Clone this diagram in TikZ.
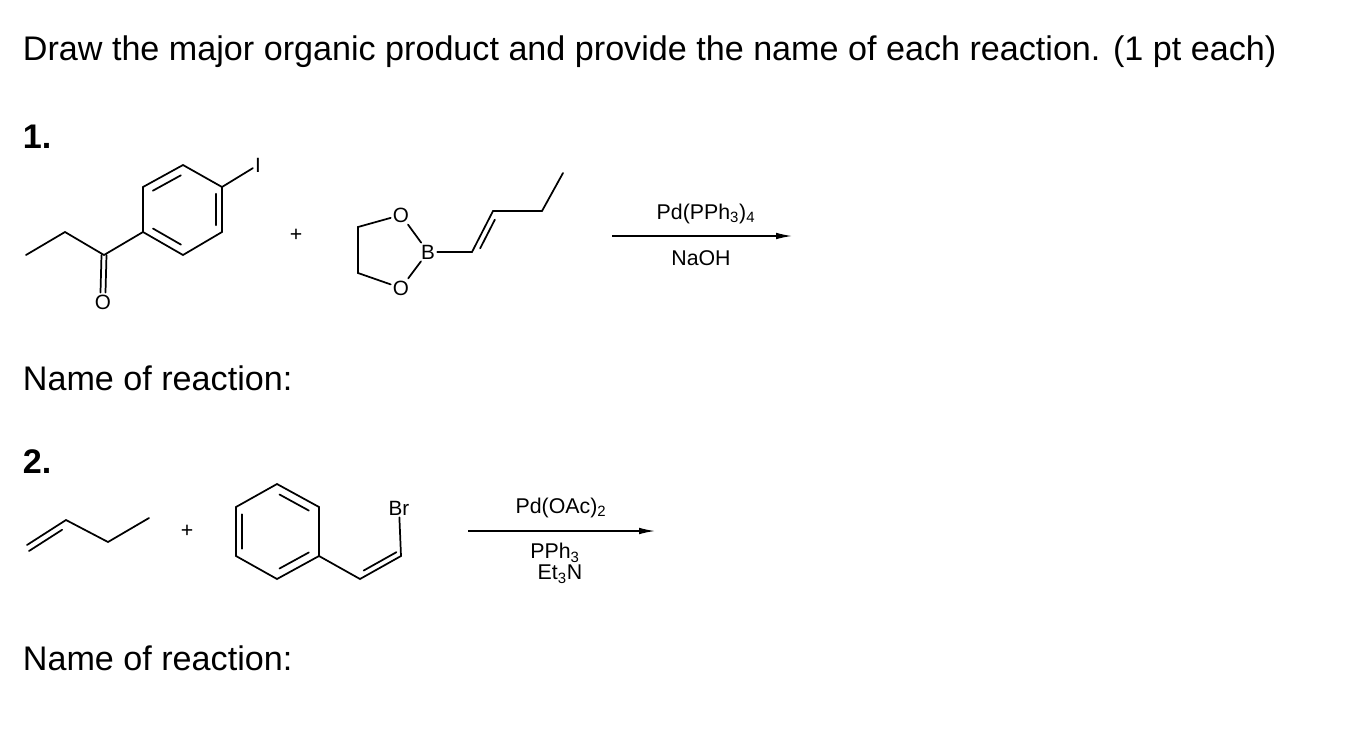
\documentclass[tikz,border=0pt]{standalone}
\usepackage{fontspec}
\setmainfont{Liberation Sans}
\usetikzlibrary{arrows.meta,calc}
\begin{document}
\begin{tikzpicture}[x=0.75pt,y=-0.75pt,line width=1.4pt,
  bond/.style={line width=1.3pt,line cap=round},
  atom/.style={inner sep=1pt,font=\fontsize{15.5}{15.5}\selectfont},
  small/.style={inner sep=0pt,font=\fontsize{16}{16}\selectfont},
  big/.style={anchor=west,inner sep=0pt,font=\fontsize{25.6}{28}\selectfont},
  rxnarrow/.style={line width=1pt,-{Latex[length=12pt,width=5pt]}}]
\useasboundingbox (0,0) rectangle (1358,754);
\node[big] (title) at (22,52) {Draw the major organic product and provide the name of each reaction. (1 pt each)};
\node[big,font=\fontsize{25.6}{28}\selectfont\bfseries] (n1) at (22,137) {1.};
\node[big] (name1) at (22,378) {Name of reaction:};
\node[big,font=\fontsize{25.6}{28}\selectfont\bfseries] (n2) at (22,462) {2.};
\node[big] (name2) at (22,658) {Name of reaction:};
% molecule 1a
\coordinate (a1) at (183,165); \coordinate (a2) at (222,187); \coordinate (a3) at (222,232);
\coordinate (a4) at (183,255); \coordinate (a5) at (143,232); \coordinate (a6) at (143,187);
\coordinate (ck) at (104,255); \coordinate (ch2) at (65,232); \coordinate (ch3) at (26,255);
\node[atom] (I) at (258,165) {I};
\node[atom] (Ok) at (103,302) {O};
\draw[bond] (a1)--(a2)--(a3)--(a4)--(a5)--(a6)--cycle;
\draw[bond] ($(a2)!0.15!(a3)+(-6,0)$)--($(a2)!0.85!(a3)+(-6,0)$);
\draw[bond] (a2)--(I);
\draw[bond] (a5)--(ck)--(ch2)--(ch3);
\draw[bond] ($(ck)+(-2.5,0)$)--($(Ok.north)+(-2.5,0)$);
\draw[bond] ($(ck)+(2.5,0)$)--($(Ok.north)+(2.5,0)$);
\foreach \p/\q in {a6/a1,a4/a5}{\path (\p) -- (\q) coordinate[pos=.15] (s) coordinate[pos=.85] (e);
 \draw[bond] ($(s)!6pt!-90:(e)$) -- ($(e)!6pt!90:(s)$);}
\node[small] (plus1) at (296,235) {+};
% boronate
\node[atom] (O1) at (401,215) {O};
\node[atom] (B) at (428,252) {B};
\node[atom] (O2) at (401,288) {O};
\coordinate (r1) at (358,227); \coordinate (r2) at (358,273);
\coordinate (v1) at (472,252); \coordinate (v2) at (493,211); \coordinate (v3) at (542,211); \coordinate (v4) at (563,173);
\draw[bond] (O1)--(r1)--(r2)--(O2)--(B)--(O1);
\draw[bond] (B)--(v1)--(v2)--(v3)--(v4);
\draw[bond] ($(v1)!0.15!(v2)+(5,2.5)$)--($(v1)!0.85!(v2)+(5,2.5)$);
% arrow 1
\coordinate (ar1s) at (612,236); \coordinate (ar1e) at (792,236);
\draw[rxnarrow] (ar1s)--(ar1e);
\node[small] (pd1) at (706,214) {Pd(PPh\textsubscript{3})\textsubscript{4}};
\node[small] (naoh) at (701,258) {NaOH};
% butene
\coordinate (b1) at (27,545); \coordinate (b2) at (66,520); \coordinate (b3) at (108,542); \coordinate (b4) at (149,518);
\draw[bond] (b1)--(b2)--(b3)--(b4);
\draw[bond] ($(b1)+(2,6)$)--($(b1)!0.85!(b2)+(2,6)$);
\node[small] (plus2) at (187,531) {+};
% benzene
\coordinate (c1) at (277,484); \coordinate (c2) at (319,507); \coordinate (c3) at (319,556);
\coordinate (c4) at (277,579); \coordinate (c5) at (236,556); \coordinate (c6) at (236,507);
\draw[bond] (c1)--(c2)--(c3)--(c4)--(c5)--(c6)--cycle;
\foreach \p/\q in {c1/c2,c3/c4}{\path (\p) -- (\q) coordinate[pos=.15] (s) coordinate[pos=.85] (e);
 \draw[bond] ($(s)!6pt!-90:(e)$) -- ($(e)!6pt!90:(s)$);}
\draw[bond] ($(c5)!0.15!(c6)+(6,0)$)--($(c5)!0.85!(c6)+(6,0)$);
\coordinate (d1) at (360,579); \coordinate (d2) at (401,556);
\node[atom] (Br) at (399,508) {Br};
\draw[bond] (c3)--(d1)--(d2)--(Br);
\draw[bond] ($(d1)!0.15!(d2)+(-2.5,-5)$)--($(d1)!0.95!(d2)+(-2.5,-5)$);
% arrow 2
\coordinate (ar2s) at (468,531); \coordinate (ar2e) at (655,531);
\draw[rxnarrow] (ar2s)--(ar2e);
\node[small] (pd2) at (561,508) {Pd(OAc)\textsubscript{2}};
\node[small] (pph) at (555,553) {PPh\textsubscript{3}};
\node[small] (et) at (560,574) {Et\textsubscript{3}N};
\end{tikzpicture}
\end{document}
